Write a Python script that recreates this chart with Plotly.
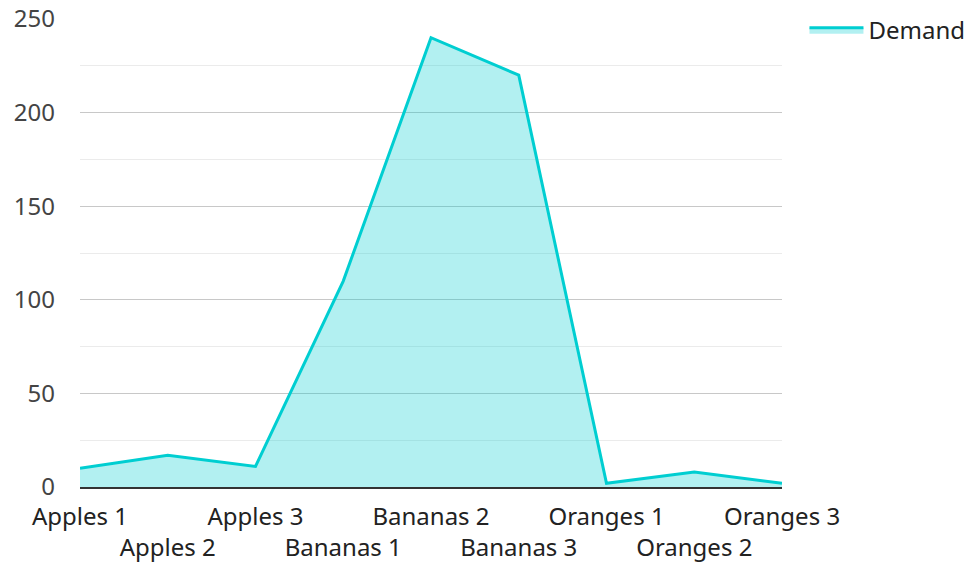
import plotly.graph_objects as go

# Demand per product batch
categories = ["Apples 1", "Apples 2", "Apples 3",
              "Bananas 1", "Bananas 2", "Bananas 3",
              "Oranges 1", "Oranges 2", "Oranges 3"]
demand = [10, 17, 11, 110, 240, 220, 2, 8, 2]
y_ticks = [0, 50, 100, 150, 200, 250]

LINE = "#00CED1"
FILL = "rgba(0,206,209,0.3)"
FONT = "Noto Sans"

# stagger the category labels on two rows so they don't collide
tick_text = [c if i % 2 == 0 else "<br>" + c for i, c in enumerate(categories)]

fig = go.Figure()
fig.add_trace(go.Scatter(
    x=list(range(len(categories))), y=demand, name="Demand",
    mode="lines", line=dict(color=LINE, width=3),
    fill="tozeroy", fillcolor=FILL,
))

fig.update_layout(
    width=968, height=562,
    margin=dict(l=80, r=186, t=19, b=75, autoexpand=False),
    paper_bgcolor="white", plot_bgcolor="white",
    font=dict(family=FONT, size=24, color="#444"),
    showlegend=True,
    legend=dict(x=1.032, y=1.024, xanchor="left", yanchor="top",
                itemwidth=54,
                font=dict(size=24, color="#222"), bgcolor="rgba(0,0,0,0)"),
    xaxis=dict(
        range=[0, len(categories) - 1],
        tickmode="array",
        tickvals=list(range(len(categories))),
        ticktext=tick_text,
        tickangle=0,
        showgrid=False, zeroline=False,
        showline=True, linecolor="#333", linewidth=2,
        ticks="", ticklabelstandoff=7,
        tickfont=dict(size=24, color="#222"),
        automargin=False,
    ),
    yaxis=dict(
        range=[0, 250],
        tickmode="array", tickvals=y_ticks,
        showgrid=True, gridcolor="#c8c8c8", gridwidth=1,
        minor=dict(dtick=25, showgrid=True, gridcolor="#ebebeb", gridwidth=1),
        zeroline=False, showline=False,
        ticks="", ticklabelstandoff=24,
        tickfont=dict(size=24, color="#444"),
        automargin=False,
    ),
)

fig.write_html("out.html")
